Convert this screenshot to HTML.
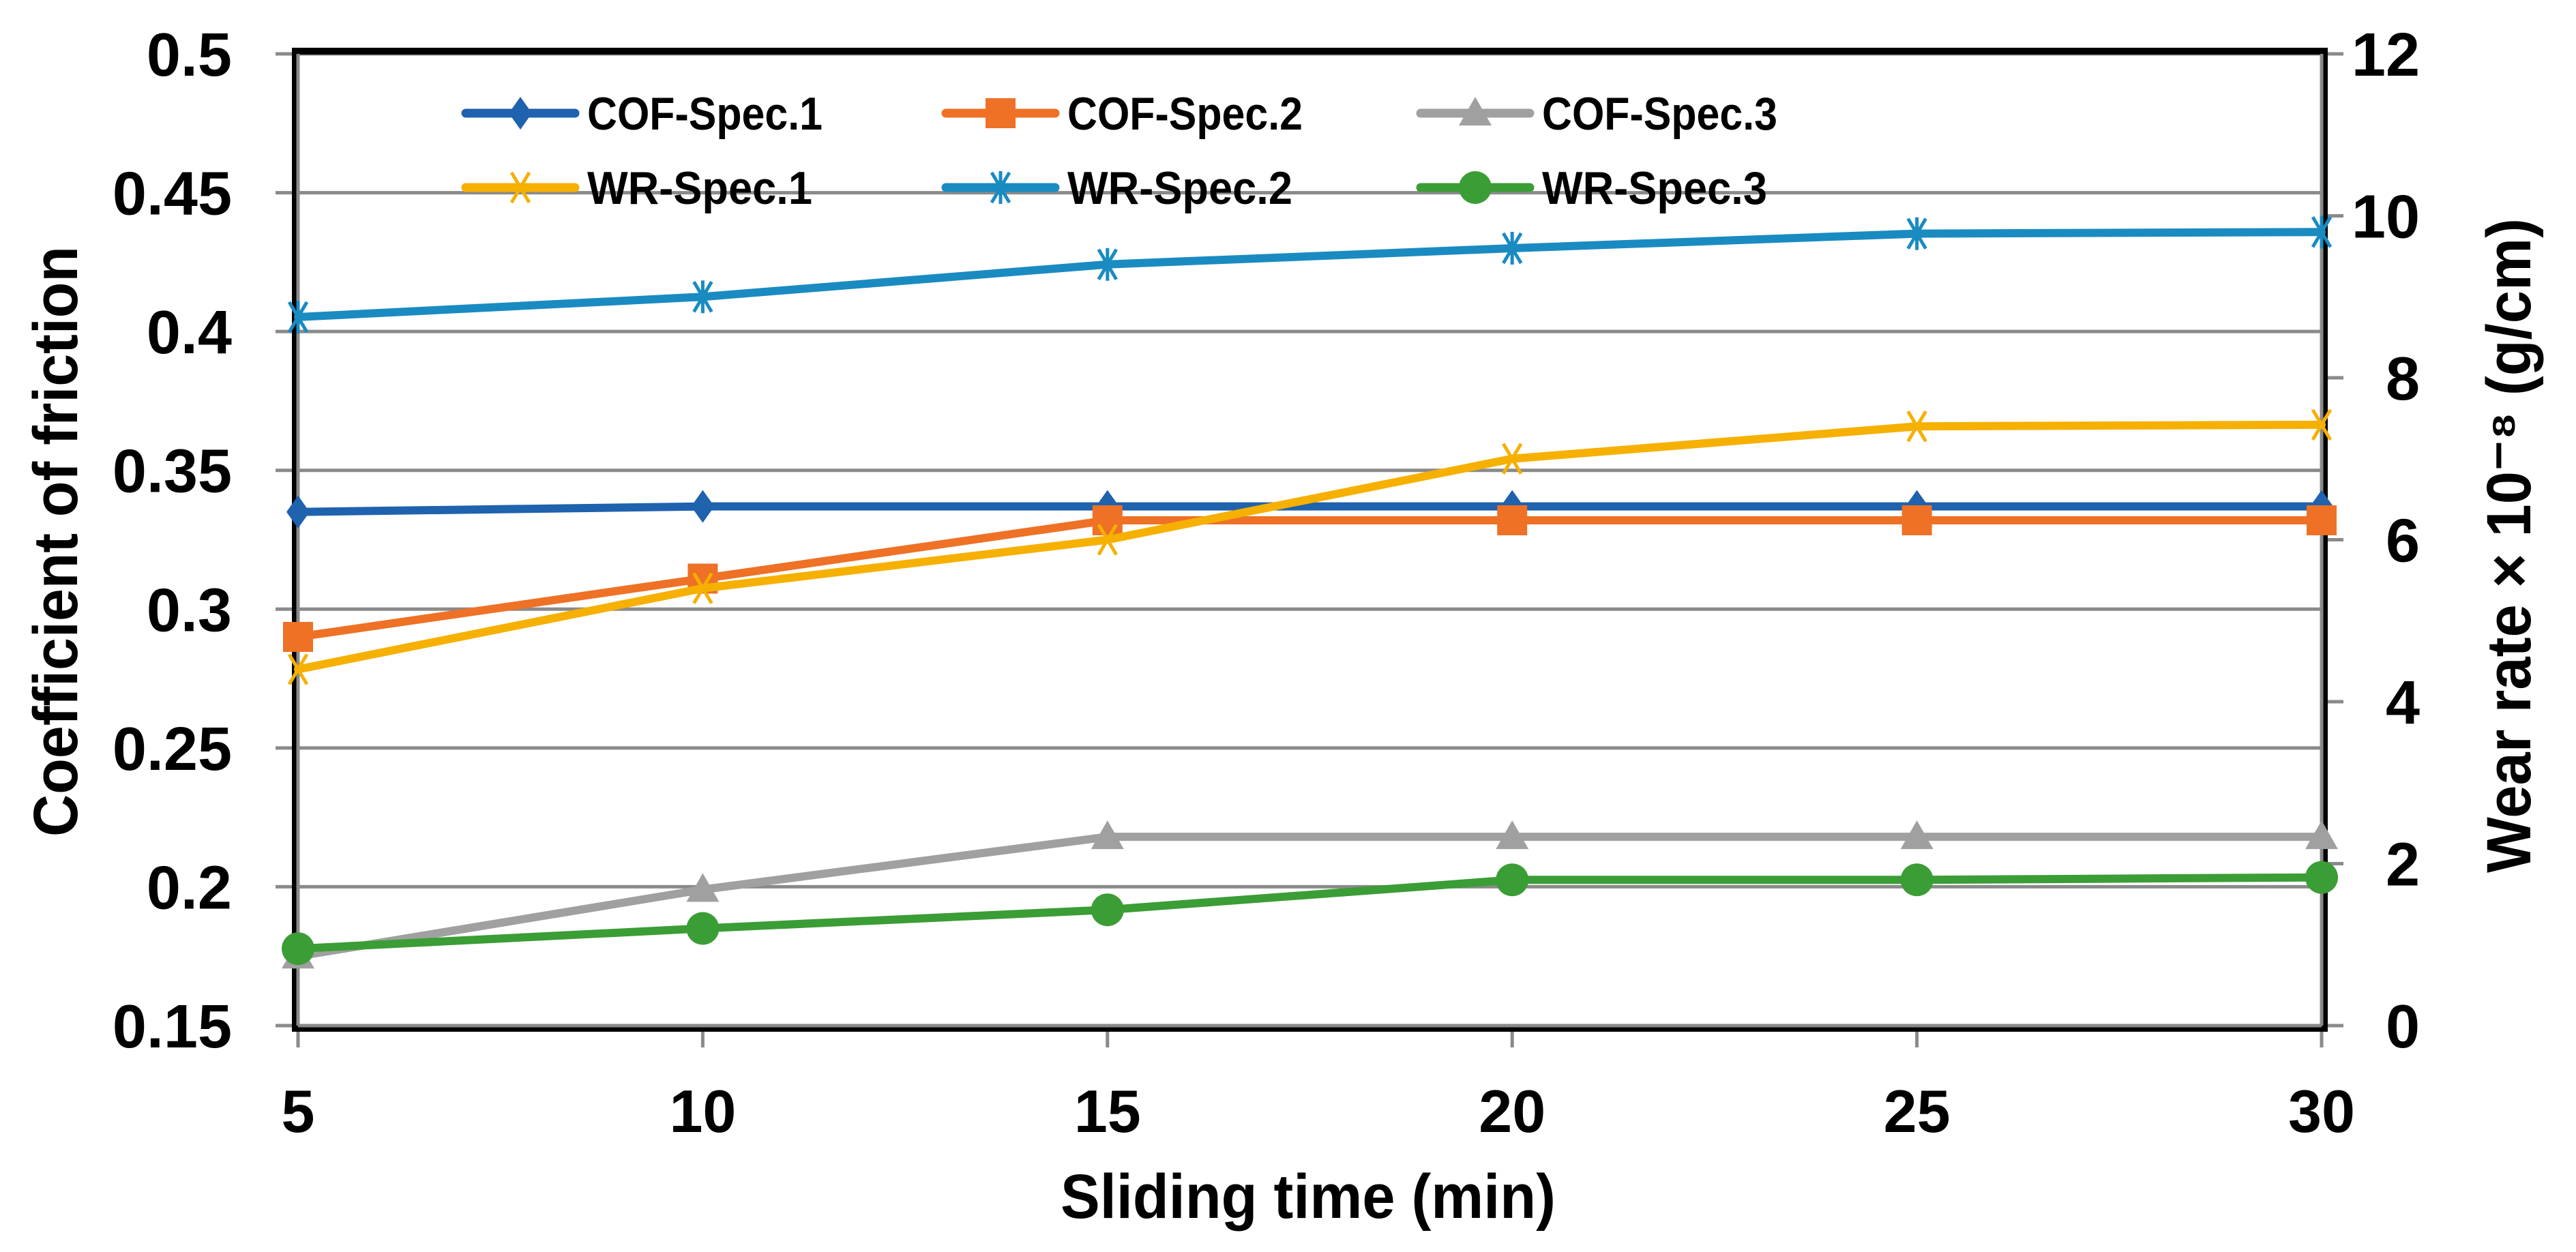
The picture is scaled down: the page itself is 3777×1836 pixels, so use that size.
<!DOCTYPE html>
<html><head><meta charset="utf-8"><style>
html,body{margin:0;padding:0;background:#fff;}
svg{display:block;font-family:"Liberation Sans",sans-serif;font-weight:bold;}
</style></head><body>
<svg id="chart" width="3777" height="1836" viewBox="0 0 3777 1836" xmlns="http://www.w3.org/2000/svg"></svg>
<script>
const xCategories = [5, 10, 15, 20, 25, 30];
const leftTicks = [0.15, 0.2, 0.25, 0.3, 0.35, 0.4, 0.45, 0.5];
const leftTickLabels = ["0.15","0.2","0.25","0.3","0.35","0.4","0.45","0.5"];
const rightTicks = [0, 2, 4, 6, 8, 10, 12];
const rightTickLabels = ["0","2","4","6","8","10","12"];
const cofSpec1 = [0.335, 0.337, 0.337, 0.337, 0.337, 0.337];
const cofSpec2 = [0.290, 0.311, 0.332, 0.332, 0.332, 0.332];
const cofSpec3 = [0.175, 0.199, 0.218, 0.218, 0.218, 0.218];
const wrSpec1 = [4.4, 5.4, 6.0, 7.0, 7.4, 7.42];
const wrSpec2 = [8.75, 9.0, 9.4, 9.6, 9.78, 9.8];
const wrSpec3 = [0.95, 1.2, 1.43, 1.8, 1.8, 1.83];

const L = 437, R = 3404, T = 79, B = 1504;
const NS = "http://www.w3.org/2000/svg";
const svg = document.getElementById('chart');
function xS(v){ return L + (v - 5) / 25 * (R - L); }
function yL(v){ return B - (v - 0.15) / 0.35 * (B - T); }
function yR(v){ return B - v / 12 * (B - T); }
function mk(tag, attrs, parent){ const e = document.createElementNS(NS, tag); for (const k in attrs) e.setAttribute(k, attrs[k]); (parent||svg).appendChild(e); return e; }

leftTicks.forEach((t, i) => {
  const y = yL(t);
  const g = mk('line', {x1: 404, x2: R, y1: y, y2: y, stroke: '#8a8a8a', 'stroke-width': 5});
  
  
  const tx = mk('text', {x: 340, y: y + 32, 'text-anchor': 'end', 'font-size': 90});
  tx.textContent = leftTickLabels[i];
  
  
});
rightTicks.forEach((t, i) => {
  const y = yR(t);
  const g = mk('line', {x1: R, x2: R + 32, y1: y, y2: y, stroke: '#8a8a8a', 'stroke-width': 5});
  
  
  const tx = mk('text', {x: 3548, y: y + 32, 'text-anchor': 'end', 'font-size': 90});
  tx.textContent = rightTickLabels[i];
  
  
});
xCategories.forEach(c => {
  const x = xS(c);
  const g = mk('line', {x1: x, x2: x, y1: B, y2: B + 32, stroke: '#8a8a8a', 'stroke-width': 5});
  
  
  const tx = mk('text', {x: x, y: 1660, 'text-anchor': 'middle', 'font-size': 88});
  tx.textContent = String(c);
  
  
});
const fr = mk('rect', {x: L - 4, y: T - 4, width: R - L + 8, height: B - T + 8, fill: 'none', stroke: '#000', 'stroke-width': 10});


mk('line', {x1: L, x2: L, y1: T, y2: B, stroke: '#8a8a8a', 'stroke-width': 5});
mk('line', {x1: R, x2: R, y1: T, y2: B, stroke: '#8a8a8a', 'stroke-width': 5});
mk('line', {x1: L, x2: R, y1: B, y2: B, stroke: '#8a8a8a', 'stroke-width': 5});

function marker(type, x, y, color, parent){
  let e;
  if (type === 'diamond') e = mk('polygon', {points: `${x},${y-24} ${x+17},${y} ${x},${y+24} ${x-17},${y}`, fill: color}, parent);
  else if (type === 'square') e = mk('rect', {x: x-22, y: y-22, width: 44, height: 44, fill: color}, parent);
  else if (type === 'triangle') e = mk('polygon', {points: `${x},${y-24} ${x+24},${y+18} ${x-24},${y+18}`, fill: color}, parent);
  else if (type === 'circle') e = mk('circle', {cx: x, cy: y, r: 24, fill: color}, parent);
  else if (type === 'x') {
    e = mk('path', {d: `M${x-13},${y-22}L${x+13},${y+22}M${x+13},${y-22}L${x-13},${y+22}`, stroke: color, 'stroke-width': 5, fill: 'none'}, parent);
  } else if (type === 'star') {
    e = mk('path', {d: `M${x-13},${y-22}L${x+13},${y+22}M${x+13},${y-22}L${x-13},${y+22}M${x},${y-24}L${x},${y+24}`, stroke: color, 'stroke-width': 5, fill: 'none'}, parent);
  }
  
  
}

const series = [
  {name: 'COF-Spec.1', data: cofSpec1, axis: 'L', color: '#1f62ad', m: 'diamond'},
  {name: 'COF-Spec.2', data: cofSpec2, axis: 'L', color: '#ee7126', m: 'square'},
  {name: 'COF-Spec.3', data: cofSpec3, axis: 'L', color: '#a0a0a0', m: 'triangle'},
  {name: 'WR-Spec.1', data: wrSpec1, axis: 'R', color: '#f6b000', m: 'x'},
  {name: 'WR-Spec.2', data: wrSpec2, axis: 'R', color: '#1a8bc1', m: 'star'},
  {name: 'WR-Spec.3', data: wrSpec3, axis: 'R', color: '#3b9d35', m: 'circle'}
];
series.forEach(s => {
  const g = mk('g', {});
  
  
  const pts = s.data.map((v, i) => [xS(xCategories[i]), s.axis === 'L' ? yL(v) : yR(v)]);
  const pl = mk('polyline', {points: pts.map(p => p.join(',')).join(' '), fill: 'none', stroke: s.color, 'stroke-width': 12, 'stroke-linejoin': 'round', 'stroke-linecap': 'round'}, g);
  
  
  pts.forEach(p => marker(s.m, p[0], p[1], s.color, g));
});

const legX = [677, 1381, 2077];
const legY = [166, 275];
series.forEach((s, i) => {
  const col = i % 3, row = Math.floor(i / 3);
  const x0 = legX[col], y = legY[row];
  const g = mk('g', {});
  
  
  const ln = mk('line', {x1: x0 + 6, x2: x0 + 166, y1: y, y2: y, stroke: s.color, 'stroke-width': 13, 'stroke-linecap': 'round'}, g);
  
  
  marker(s.m, x0 + 86, y, s.color, g);
  const tx = mk('text', {x: x0 + 184, y: y + 24, 'font-size': 68, textLength: (row === 0 ? 345 : 330), lengthAdjust: 'spacingAndGlyphs'}, g);
  tx.textContent = s.name;
  
  
});

const xt = mk('text', {x: 1918, y: 1786, 'text-anchor': 'middle', 'font-size': 92, textLength: 726, lengthAdjust: 'spacingAndGlyphs'});
xt.textContent = 'Sliding time (min)';


const yt = mk('text', {x: 0, y: 0, 'text-anchor': 'middle', 'font-size': 92, textLength: 866, lengthAdjust: 'spacingAndGlyphs', transform: 'translate(113,794) rotate(-90)'});
yt.textContent = 'Coefficient of friction';


const rt = mk('text', {x: 0, y: 0, 'text-anchor': 'middle', 'font-size': 92, textLength: 960, lengthAdjust: 'spacingAndGlyphs', transform: 'translate(3710,800) rotate(-90)'});
rt.textContent = 'Wear rate × 10⁻⁸ (g/cm)';


</script>
</body></html>
